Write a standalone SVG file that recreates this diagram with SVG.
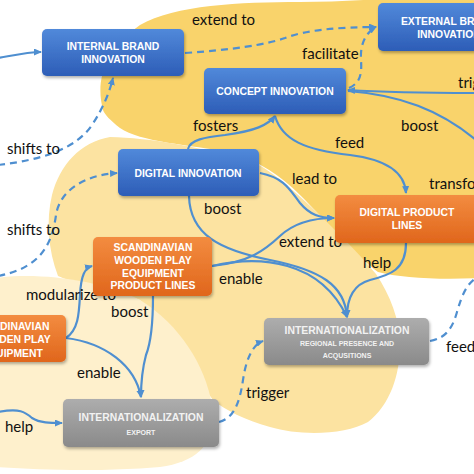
<svg xmlns="http://www.w3.org/2000/svg" width="474" height="474" viewBox="0 0 474 474">
<defs>
<linearGradient id="gBlue" x1="0" y1="0" x2="0" y2="1"><stop offset="0" stop-color="#5189DA"/><stop offset="1" stop-color="#2D5DB7"/></linearGradient>
<linearGradient id="gOrange" x1="0" y1="0" x2="0" y2="1"><stop offset="0" stop-color="#F38C40"/><stop offset="1" stop-color="#E0661C"/></linearGradient>
<linearGradient id="gGray" x1="0" y1="0" x2="0" y2="1"><stop offset="0" stop-color="#ADADAD"/><stop offset="1" stop-color="#8A8A8A"/></linearGradient>
<filter id="sh" x="-10%" y="-10%" width="130%" height="140%"><feDropShadow dx="1" dy="2" stdDeviation="1.5" flood-color="#000" flood-opacity="0.3"/></filter>
<marker id="ah" viewBox="0 0 8 7" refX="7" refY="3.5" markerWidth="8" markerHeight="7" markerUnits="userSpaceOnUse" orient="auto"><path d="M0,0 L8,3.5 L0,7 Z" fill="#4F8FD0"/></marker>
</defs>
<style>
.c{fill:none;stroke:#4F8FD0;stroke-width:2.2}
.d{stroke-dasharray:7 5}
.a{marker-end:url(#ah)}
.lb{font-family:Lato,"Liberation Sans",sans-serif;font-size:15px;fill:#111}
.nt{font-family:"Liberation Sans",Arial,sans-serif;font-weight:bold;font-size:10.4px;fill:#fff;text-anchor:middle}
.gt{font-family:"Liberation Sans",Arial,sans-serif;font-weight:bold;font-size:10.4px;fill:#F2F2F2;text-anchor:middle}
.st{font-family:"Liberation Sans",Arial,sans-serif;font-weight:bold;font-size:7px;fill:#F2F2F2;text-anchor:middle}
.nb{fill:url(#gBlue);filter:url(#sh)}
.no{fill:url(#gOrange);filter:url(#sh)}
.ng{fill:url(#gGray);filter:url(#sh)}
</style>
<rect width="474" height="474" fill="#fff"/>
<g id="blobs">
<path d="M103,110 C95,80 105,50 140,25 C175,5 240,2 300,2 C360,2 420,-5 480,-5 L480,278 C440,280 400,278 378,272 C355,255 330,225 300,195 C280,175 260,162 230,152 C190,145 140,142 120,128 C110,120 105,115 103,110 Z" fill="#F9D36B"/>
<path d="M110,137 C150,138 200,146 259,165 C285,180 320,215 345,240 C360,255 368,265 376,274 C390,295 400,320 400,345 C400,375 390,405 368,422 C345,435 300,436 270,427 C245,420 225,410 213,400 L140,300 C100,285 70,282 58,276 C48,250 46,220 52,195 C60,165 80,142 110,137 Z" fill="#FCE3A1"/>
<path d="M-5,278 C40,272 100,280 140,300 C180,325 205,365 212,405 C218,440 200,462 160,467 C100,472 40,470 -5,467 Z" fill="#FEF0CC"/>
</g>
<g id="connectors">
<path class="c a" d="M-2,58 C15,55 28,52 41,52"/>
<path class="c d a" d="M185,53 C230,50 265,45 285,38 C305,30 340,27 376,27"/>
<path class="c d a" d="M349,88 C360,83 362,75 361,60 C360,45 365,33 376,27"/>
<path class="c a" d="M476,93 C430,93 380,92 348,90"/>
<path class="c" d="M348,91 C400,95 440,110 476,140"/>
<path class="c a" d="M275,116 C282,140 305,150 350,155 C390,160 405,175 406,193"/>
<path class="c a" d="M188,149 C190,140 205,137 225,135 C255,131 268,125 275,116"/>
<path class="c a" d="M260,173 C285,178 290,190 300,203 C310,215 320,218 334,218"/>
<path class="c a" d="M189,196 C190,235 220,250 270,260 C320,270 345,285 347,317"/>
<path class="c a" d="M212,266 C250,262 265,250 280,236 C295,222 315,218 334,218"/>
<path class="c a" d="M212,266 C260,255 320,260 347,317"/>
<path class="c a" d="M406,243 C406,270 390,275 370,280 C352,285 347,300 347,317"/>
<path class="c d a" d="M-2,165 C40,160 75,150 92,125 C105,105 110,90 113,78"/>
<path class="c d a" d="M-2,276 C40,268 52,245 56,215 C60,190 85,175 117,173"/>
<path class="c a" d="M66,338 C78,330 79,315 80,295 C81,275 85,268 92,266"/>
<path class="c a" d="M66,338 C105,343 135,365 141,397"/>
<path class="c a" d="M153,296 C153,320 152,340 146,355 C142,370 141,385 141,397"/>
<path class="c a" d="M-2,412 C20,408 25,412 32,418 C40,423 50,423 62,423"/>
<path class="c d a" d="M219,422 C235,418 240,400 243,380 C246,360 252,345 263,341"/>
<path class="c d" d="M430,341 C445,338 452,330 457,312 C462,295 466,285 476,278"/>
</g>
<g id="labels">
<text class="lb" x="192" y="25">extend to</text>
<text class="lb" x="302" y="59">facilitate</text>
<text class="lb" x="458" y="88">trigger</text>
<text class="lb" x="193" y="131">fosters</text>
<text class="lb" x="401" y="131">boost</text>
<text class="lb" x="335" y="148">feed</text>
<text class="lb" x="292" y="184">lead to</text>
<text class="lb" x="429" y="189">transform</text>
<text class="lb" x="204" y="214">boost</text>
<text class="lb" x="7" y="154">shifts to</text>
<text class="lb" x="7" y="235">shifts to</text>
<text class="lb" x="279" y="247">extend to</text>
<text class="lb" x="363" y="268">help</text>
<text class="lb" x="219" y="284">enable</text>
<text class="lb" x="26" y="300">modularize to</text>
<text class="lb" x="111" y="317">boost</text>
<text class="lb" x="77" y="378">enable</text>
<text class="lb" x="246" y="398">trigger</text>
<text class="lb" x="5" y="432">help</text>
<text class="lb" x="446" y="352">feed</text>
</g>
<g id="n-internal-brand"><rect class="nb" x="42" y="29" width="142" height="47" rx="5"/><text class="nt" x="113" y="50">INTERNAL BRAND</text><text class="nt" x="113" y="63">INNOVATION</text></g>
<g id="n-external-brand"><rect class="nb" x="378" y="3" width="142" height="48" rx="5"/><text class="nt" x="449" y="25">EXTERNAL BRAND</text><text class="nt" x="449" y="38">INNOVATION</text></g>
<g id="n-concept"><rect class="nb" x="204" y="68" width="142" height="46" rx="5"/><text class="nt" x="275" y="95">CONCEPT INNOVATION</text></g>
<g id="n-digital-innovation"><rect class="nb" x="118" y="149" width="141" height="47" rx="5"/><text class="nt" x="188" y="177">DIGITAL INNOVATION</text></g>
<g id="n-digital-product"><rect class="no" x="335" y="195" width="144" height="48" rx="5"/><text class="nt" x="407" y="216">DIGITAL PRODUCT</text><text class="nt" x="407" y="229">LINES</text></g>
<g id="n-swpe-lines"><rect class="no" x="93" y="237" width="119" height="59" rx="5"/><text class="nt" x="153" y="251">SCANDINAVIAN</text><text class="nt" x="153" y="263.5">WOODEN PLAY</text><text class="nt" x="153" y="276.5">EQUIPMENT</text><text class="nt" x="153" y="289">PRODUCT LINES</text></g>
<g id="n-swpe"><rect class="no" x="-46" y="315" width="112" height="47" rx="5"/><text class="nt" x="10" y="330">SCANDINAVIAN</text><text class="nt" x="12" y="343">WOODEN PLAY</text><text class="nt" x="12" y="356.5">EQUIPMENT</text></g>
<g id="n-intl-regional"><rect class="ng" x="264" y="318" width="165" height="47" rx="5"/><text class="gt" x="347" y="334">INTERNATIONALIZATION</text><text class="st" x="347" y="346">REGIONAL PRESENCE AND</text><text class="st" x="347" y="358">ACQUSITIONS</text></g>
<g id="n-intl-export"><rect class="ng" x="63" y="399" width="156" height="48" rx="5"/><text class="gt" x="141" y="420.5">INTERNATIONALIZATION</text><text class="st" x="141" y="435">EXPORT</text></g>
</svg>
